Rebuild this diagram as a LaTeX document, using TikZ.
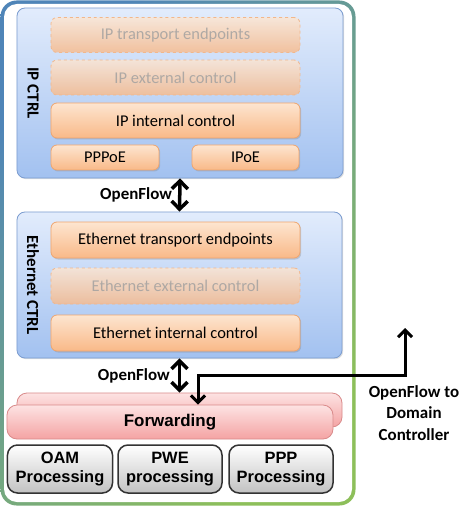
\documentclass[tikz,border=0pt]{standalone}
\usepackage{fontspec}
\setmainfont{Carlito}
\newfontfamily\arialfont{Liberation Sans}
\usepackage{tikz}
\usetikzlibrary{arrows.meta,calc,positioning,shadows}

\definecolor{frameA}{HTML}{4F85B8}
\definecolor{frameB}{HTML}{8DBF5A}
\definecolor{panelTop}{HTML}{E2ECFC}
\definecolor{panelBot}{HTML}{A2C1F0}
\definecolor{panelEdge}{HTML}{7C9DD0}
\definecolor{layerTop}{HTML}{FDE5D0}
\definecolor{layerBot}{HTML}{F9B988}
\definecolor{layerEdge}{HTML}{EFA56E}
\definecolor{fwdTop}{HTML}{FDE3E3}
\definecolor{fwdBot}{HTML}{F4A3A3}
\definecolor{fwdEdge}{HTML}{D98A8A}

\begin{document}
\begin{tikzpicture}[x=1bp, y=-1bp,
    every node/.style={font=\fontsize{16.5}{19}\selectfont, inner sep=0pt},
    panel/.style={draw=panelEdge, line width=0.8bp, rounded corners=8bp,
        top color=panelTop, bottom color=panelBot,
        drop shadow={shadow xshift=1.2bp, shadow yshift=-1.2bp, opacity=0.25}},
    layer/.style={draw=layerEdge, line width=0.8bp, rounded corners=6bp,
        top color=layerTop, bottom color=layerBot,
        minimum width=249bp, minimum height=35bp,
        drop shadow={shadow xshift=1.2bp, shadow yshift=-1.5bp, opacity=0.3}},
    ghost/.style={draw=layerEdge!80, line width=0.8bp, dashed, rounded corners=6bp,
        top color=layerTop, bottom color=layerBot, fill opacity=0.8,
        text=black!38, minimum width=249bp, minimum height=35bp},
    fwd/.style={draw=fwdEdge, line width=0.8bp, rounded corners=10bp,
        top color=fwdTop, bottom color=fwdBot,
        minimum width=326bp, minimum height=34bp},
    proc/.style={draw=black!80, line width=1.5bp, rounded corners=10bp,
        top color=white, bottom color=black!24, align=center,
        minimum width=105bp, minimum height=48bp,
        font=\arialfont\bfseries\fontsize{16.5}{18.5}\selectfont},
    ctrllabel/.style={rotate=-90, font=\bfseries\fontsize{17}{19}\selectfont},
    oflabel/.style={font=\bfseries\fontsize{17}{19}\selectfont},
    ofarrow/.style={{Straight Barb[length=8bp,width=16bp]}-{Straight Barb[length=8bp,width=16bp]},
        line width=3.5bp},
    dcarrow/.style={{Straight Barb[length=7bp,width=14bp]}-{Straight Barb[length=7bp,width=14bp]},
        line width=3bp}]

    \useasboundingbox (0,0) rectangle (474,506);

    % outer frame
    \shade[rounded corners=16bp, top color=frameA, bottom color=frameB, shading angle=45]
        (0.5,0.5) rectangle (355.5,505.5);
    \fill[white, rounded corners=13bp] (4,4) rectangle (352,502);

    % IP control plane
    \node[panel, minimum width=326bp, minimum height=170bp] (ipctrl) at (180,93) {};
    \node[ctrllabel] (iplbl) at (33,93) {IP CTRL};
    \node[ghost] (ipte) at (175.5,35) {IP transport endpoints};
    \node[ghost] (ipext) at (175.5,77.5) {IP external control};
    \node[layer] (ipint) at (175.5,120.5) {IP internal control};
    \node[layer, minimum width=108bp, minimum height=25bp] (pppoe) at (105,157.5) {PPPoE};
    \node[layer, minimum width=107bp, minimum height=25bp] (ipoe) at (245.5,157.5) {IPoE};

    % Ethernet control plane
    \node[panel, minimum width=325bp, minimum height=146bp] (ethctrl) at (179.5,285) {};
    \node[ctrllabel] (ethlbl) at (33,285) {Ethernet CTRL};
    \node[layer, minimum height=36bp] (ethte) at (175.5,240) {Ethernet transport endpoints};
    \node[ghost, minimum height=36bp] (ethext) at (175.5,286) {Ethernet external control};
    \node[layer, minimum height=36bp] (ethint) at (175.5,333) {Ethernet internal control};

    % forwarding stack
    \node[fwd, minimum width=325bp] (fwdback) at (179.5,410) {};
    \node[fwd, font=\arialfont\bfseries\fontsize{17}{19}\selectfont] (fwdfront) at (170,422) {Forwarding};

    % processing blocks
    \node[proc] (oam) at (60,469) {OAM\\Processing};
    \node[proc, minimum width=104bp] (pwe) at (170,469) {PWE\\processing};
    \node[proc, minimum width=104bp] (ppp) at (281,469) {PPP\\Processing};

    % OpenFlow links
    \draw[ofarrow] (ipctrl.south) -- (ethctrl.north)
        node[midway, left=6bp, oflabel] (of1) {OpenFlow};
    \draw[ofarrow] (ethctrl.south) -- (fwdback.north)
        node[midway, left=8bp, oflabel] (of2) {OpenFlow};

    % link to the domain controller
    \coordinate (fwdin) at ($(fwdfront.north)+(28,0)$);
    \coordinate (bend) at (0,375);
    \coordinate (dctop) at (405,328);
    \draw[dcarrow] (fwdin) -- (fwdin |- bend) -- (dctop |- bend) -- (dctop);
    \node[oflabel, align=center, font=\bfseries\fontsize{17}{21.5}\selectfont] (dclbl) at (414,413)
        {OpenFlow to\\Domain\\Controller};
\end{tikzpicture}
\end{document}
